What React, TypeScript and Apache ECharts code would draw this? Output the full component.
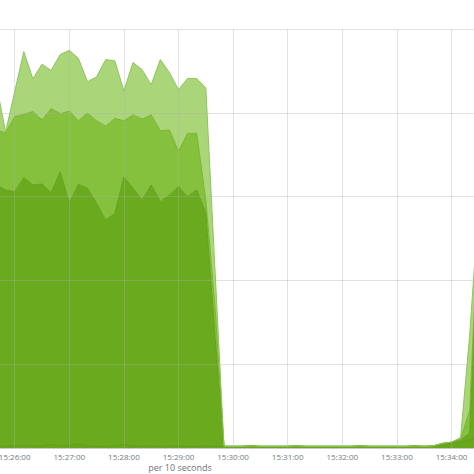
import React, { useEffect, useRef } from "react";
import * as echarts from "echarts";

// Time stamps (every 10 seconds)
const TIMES: string[] = [
  "15:25:40", "15:25:50", "15:26:00", "15:26:10", "15:26:20", "15:26:30", "15:26:40", "15:26:50",
  "15:27:00", "15:27:10", "15:27:20", "15:27:30", "15:27:40", "15:27:50",
  "15:28:00", "15:28:10", "15:28:20", "15:28:30", "15:28:40", "15:28:50",
  "15:29:00", "15:29:10", "15:29:20", "15:29:30", "15:29:40", "15:29:50",
  "15:30:00", "15:30:10", "15:30:20", "15:30:30", "15:30:40", "15:30:50",
  "15:31:00", "15:31:10", "15:31:20", "15:31:30", "15:31:40", "15:31:50",
  "15:32:00", "15:32:10", "15:32:20", "15:32:30", "15:32:40", "15:32:50",
  "15:33:00", "15:33:10", "15:33:20", "15:33:30", "15:33:40", "15:33:50",
  "15:34:00", "15:34:10", "15:34:20", "15:34:30",
];

// Stacked series, bottom to top
const BASE: number[] = [
  0.4, 0.4, 0.4, 0.5, 0.4, 0.5, 0.9, 0.4, 0.5, 1.0, 0.4, 0.4, 0.4, 0.4,
  0.8, 0.4, 0.4, 0.4, 0.4, 0.4, 0.4, 0.4, 0.4, 0.4, 0.4, 0.4,
  0.4, 0.4, 0.5, 0.4, 0.4, 0.4, 0.4, 0.5, 0.4, 0.4, 0.4, 0.4,
  0.4, 0.4, 0.5, 0.4, 0.4, 0.4, 0.4, 0.4, 0.5, 0.4, 0.5, 0.9,
  1.1, 1.3, 2.0, 3.0,
];
const DARK: number[] = [
  62.4, 61.2, 60.8, 64.0, 62.4, 62.5, 60.0, 65.5, 58.0, 61.9, 61.6, 58.0, 54.0, 55.6,
  63.9, 61.6, 58.8, 62.4, 58.4, 60.0, 62.0, 59.6, 61.2, 55.7, 26.6, 0,
  0, 0, 0, 0, 0, 0, 0, 0, 0, 0, 0, 0,
  0, 0, 0, 0, 0, 0, 0, 0, 0, 0, 0, 0.2,
  0.3, 0.6, 1.5, 53.5,
];
const MEDIUM: number[] = [
  13.1, 13.6, 17.9, 15.1, 17.5, 15.3, 20.1, 13.9, 21.9, 15.2, 17.9, 19.7, 22.4, 22.7,
  13.4, 17.5, 19.3, 16.7, 16.9, 15.5, 8.4, 15.1, 13.5, 3.1, 7.2, 0,
  0, 0, 0, 0, 0, 0, 0, 0, 0, 0, 0, 0,
  0, 0, 0, 0, 0, 0, 0, 0, 0, 0, 0, 0,
  0, 0.2, 5.5, 1.2,
];
const LIGHT: number[] = [
  10.7, 0.2, 5.9, 15.0, 7.8, 13.3, 9.1, 14.1, 14.5, 14.9, 7.5, 10.5, 15.9, 13.7,
  7.1, 12.5, 11.8, 7.2, 17.0, 13.7, 14.7, 13.1, 13.1, 26.7, 8.8, 0,
  0, 0, 0, 0, 0, 0, 0, 0, 0, 0, 0, 0,
  0, 0, 0, 0, 0, 0, 0, 0, 0, 0, 0, 0,
  0, 0.4, 18.0, 0.8,
];

const AXIS_NAME = "per 10 seconds";

export default function App() {
  const ref = useRef<HTMLDivElement>(null);
  useEffect(() => {
    if (!ref.current) return;
    const chart = echarts.init(ref.current, null, { renderer: "svg" });
    const isMinute = (_i: number, v: string) => v.endsWith(":00");
    const gridLine = { color: "rgba(175,175,175,0.36)", width: 1 };
    const mk = (name: string, vals: number[], fill: string, line: string) => ({
      name,
      type: "line",
      stack: "total",
      data: vals,
      symbol: "none",
      lineStyle: { width: 1, color: line },
      itemStyle: { color: fill },
      areaStyle: { color: fill, opacity: 1 },
      clip: true,
    });
    chart.setOption({
      animation: false,
      grid: {
        left: -3.5,
        right: -4.8,
        top: 29,
        bottom: 26,
        containLabel: false,
        outerBoundsMode: "none",
      },
      xAxis: {
        type: "category",
        data: TIMES,
        boundaryGap: false,
        z: 5,
        axisLine: { show: true, lineStyle: { color: "rgba(175,175,175,0.5)" } },
        axisTick: { show: false },
        axisLabel: {
          interval: isMinute,
          color: "#737b81",
          fontSize: 8,
          fontFamily: "Open Sans",
          margin: 4,
        },
        splitLine: { show: true, interval: isMinute, lineStyle: gridLine },
      },
      yAxis: {
        type: "value",
        min: 0,
        max: 100,
        interval: 20,
        z: 5,
        axisLine: { show: false },
        axisTick: { show: false },
        axisLabel: { show: false },
        splitLine: { show: true, lineStyle: gridLine },
      },
      graphic: [
        {
          type: "text",
          x: 180,
          y: 467,
          style: {
            text: AXIS_NAME,
            textAlign: "center",
            textVerticalAlign: "middle",
            fill: "#6f767c",
            font: "9px 'Open Sans'",
          },
        },
      ],
      series: [
        mk("base", BASE, "#68a61c", "#5f9a17"),
        mk("dark", DARK, "#6aaa1e", "#62a01a"),
        mk("medium", MEDIUM, "#86c13e", "#79b332"),
        mk("light", LIGHT, "#aad679", "#8ec45a"),
      ],
    });
    return () => chart.dispose();
  }, []);
  return (
    <div
      ref={ref}
      style={{ position: "fixed", left: 0, top: 0, width: 474, height: 474, background: "#fff" }}
    />
  );
}
